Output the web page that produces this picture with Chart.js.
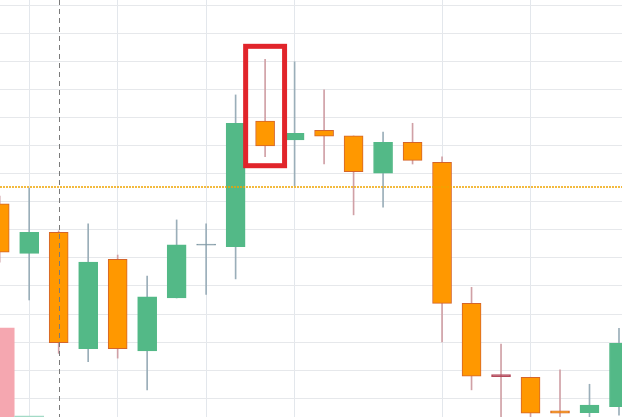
<!DOCTYPE html>
<html>
<head>
<meta charset="utf-8">
<script src="https://cdn.jsdelivr.net/npm/chart.js@4/dist/chart.umd.min.js"></script>
<style>
  html, body { margin: 0; padding: 0; background: #fff; }
  #wrap { width: 622px; height: 417px; position: relative; }
</style>
</head>
<body>
<div id="wrap"><canvas id="candles"></canvas></div>
<script>
// OHLC per candle (left to right)
const open  = [2069.2, 2051.6, 2059.1, 2017.7, 2049.5, 2016.9, 2035.7, 2054.55, 2054.0, 2098.7, 2092.0, 2095.4, 2093.4, 2080.1, 2091.1, 2084.0, 2033.8, 2008.4, 2007.5, 1995.5, 1994.9, 1997.0];
const high  = [2072.0, 2074.8, 2059.6, 2062.1, 2051.0, 2043.5, 2063.5, 2062.1, 2108.0, 2120.7, 2119.8, 2109.8, 2093.4, 2094.8, 2097.9, 2086.0, 2039.5, 2019.3, 2007.5, 2010.1, 2005.0, 2024.9];
const low   = [2048.5, 2035.0, 2016.0, 2013.0, 2014.3, 2003.0, 2035.7, 2037.0, 2042.5, 2086.0, 2075.7, 2083.4, 2065.3, 2068.0, 2083.4, 2020.1, 2003.0, 1992.3, 1992.0, 1992.8, 1992.5, 1994.0];
const close = [2052.0, 2059.1, 2019.8, 2048.5, 2017.7, 2036.1, 2054.6, 2054.6, 2097.9, 2089.8, 2094.3, 2093.3, 2080.7, 2091.1, 2084.7, 2033.8, 2007.9, 2007.7, 1994.7, 1994.7, 1997.6, 2019.6];
// volume (only the first two reach into the visible area)
const volume = [149, 61, 41, 38, 35, 30, 28, 22, 55, 47, 39, 25, 33, 27, 24, 58, 45, 31, 36, 20, 18, 40];

// grid ticks
const priceTicks = [2000, 2010, 2020, 2030, 2040, 2050, 2060, 2070, 2080, 2090, 2100, 2110, 2120, 2130, 2140];
const timeTicks = [1, 4, 7, 10, 15, 18];

// markers
const priceLevel = 2075.1;
const crosshairIdx = 2;
const highlightIdx = 9;

const idx = open.map((_, i) => i);
const isUp = i => close[i] >= open[i];
const isDoji = i => Math.abs(close[i] - open[i]) < 0.75;

const overlays = {
    id: 'overlays',
    afterDatasetsDraw(chart) {
        const {ctx, chartArea, scales: {x, y}} = chart;
        ctx.save();

        // crosshair
        const cx = Math.round(x.getPixelForValue(crosshairIdx)) + 0.5;
        ctx.strokeStyle = '#7a7a7a';
        ctx.lineWidth = 1;
        ctx.setLineDash([5, 4]);
        ctx.beginPath();
        ctx.moveTo(cx, chartArea.top);
        ctx.lineTo(cx, chartArea.bottom);
        ctx.stroke();

        // price level line
        const py = Math.round(y.getPixelForValue(priceLevel));
        ctx.strokeStyle = '#f0a400';
        ctx.lineWidth = 1.4;
        ctx.setLineDash([2, 1]);
        ctx.beginPath();
        ctx.moveTo(chartArea.left, py);
        ctx.lineTo(chartArea.right, py);
        ctx.stroke();

        // highlight box round one candle
        ctx.setLineDash([]);
        ctx.strokeStyle = '#e1252b';
        ctx.lineWidth = 5;
        const l = x.getPixelForValue(highlightIdx - 0.66);
        const r = x.getPixelForValue(highlightIdx + 0.66);
        const t = y.getPixelForValue(high[highlightIdx] + 4.6);
        const b = y.getPixelForValue(low[highlightIdx] - 3.2);
        ctx.strokeRect(l, t, r - l, b - t);

        ctx.restore();
    }
};

new Chart(document.getElementById('candles'), {
    type: 'bar',
    data: {
        datasets: [
            {
                label: 'body',
                order: 1,
                data: idx.map(i => ({x: i, y: [open[i], close[i]]})),
                barThickness: 19,
                minBarLength: 1,
                grouped: false,
                borderSkipped: false,
                borderWidth: 1,
                backgroundColor: ctx => {
                    const i = ctx.dataIndex;
                    if (isDoji(i)) return isUp(i) ? '#7f99a5' : '#b44a5c';
                    return isUp(i) ? '#53b987' : '#ff9800';
                },
                borderColor: ctx => {
                    const i = ctx.dataIndex;
                    if (isDoji(i)) return isUp(i) ? '#7f99a5' : '#b44a5c';
                    return isUp(i) ? '#53b987' : '#d4652b';
                }
            },
            {
                label: 'wick',
                order: 2,
                data: idx.map(i => ({x: i, y: [low[i], high[i]]})),
                barThickness: 1,
                grouped: false,
                borderWidth: 0,
                backgroundColor: ctx => isUp(ctx.dataIndex) ? '#9aaeb9' : '#d0a0a6'
            },
            {
                label: 'volume',
                order: 3,
                yAxisID: 'vol',
                data: idx.map(i => ({x: i, y: volume[i]})),
                barThickness: 29,
                grouped: false,
                borderWidth: 0,
                backgroundColor: ctx => isUp(ctx.dataIndex) ? '#a3dac6' : '#f5a7b0'
            }
        ]
    },
    options: {
        responsive: true,
        maintainAspectRatio: false,
        animation: false,
        layout: { padding: 0 },
        plugins: {
            legend: { display: false },
            tooltip: { enabled: false }
        },
        scales: {
            x: {
                type: 'linear',
                min: 0.0102,
                max: 21.102,
                offset: false,
                afterBuildTicks: scale => { scale.ticks = timeTicks.map(v => ({value: v})); },
                ticks: { display: false },
                border: { display: false },
                grid: { offset: false, drawTicks: false, color: '#e3e7ec' }
            },
            y: {
                type: 'linear',
                position: 'left',
                min: 1993.34,
                max: 2141.79,
                afterBuildTicks: scale => { scale.ticks = priceTicks.map(v => ({value: v})); },
                ticks: { display: false },
                border: { display: false },
                grid: { drawTicks: false, color: '#e6e8eb' }
            },
            vol: {
                type: 'linear',
                display: false,
                min: 60,
                max: 477
            }
        }
    },
    plugins: [overlays]
});
</script>
</body>
</html>
